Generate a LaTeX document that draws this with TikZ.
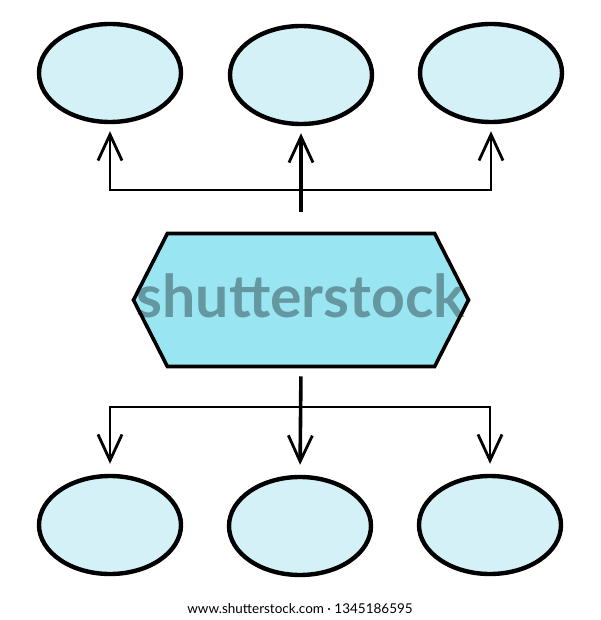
\documentclass[tikz,border=0pt]{standalone}
\usepackage{fontspec}
\newfontfamily\latofont{Lato}
\usetikzlibrary{arrows.meta,shapes.symbols,shapes.geometric}
\definecolor{ovalfill}{HTML}{D4F1F8}
\definecolor{hubfill}{HTML}{99E6F2}

\begin{document}
\begin{tikzpicture}[x=1pt,y=-1pt,
    oval/.style={ellipse,draw,line width=4.4pt,fill=ovalfill,
        minimum width=142pt,minimum height=98pt,inner sep=0pt},
    hubbox/.style={signal,signal to=east and west,signal pointer angle=126,
        draw,line width=3.6pt,fill=hubfill,
        minimum width=335pt,minimum height=133pt,inner sep=0pt},
    link/.style={line width=2.8pt,-{Straight Barb[length=26pt,width=24pt,line width=2.8pt]}},
    stem/.style={link,line width=3.6pt}]
        \useasboundingbox (0,0) rectangle (600,620);

        % верхній і нижній ряди
        \node[oval] (t1) at (110,73) {};
        \node[oval] (t2) at (301,75) {};
        \node[oval] (t3) at (491,73) {};
        \node[oval] (b1) at (110,525) {};
        \node[oval] (b2) at (300,526) {};
        \node[oval] (b3) at (490,525) {};

        \node[hubbox] (hub) at (301,300) {};

        % розгалуження
        \coordinate (up) at (301,190);
        \coordinate (down) at (301,407);

        \draw[stem,shorten <=20pt,shorten >=7pt] (hub.north) -- (t2.south);
        \draw[link,shorten >=7pt] (up) -| (t1.south);
        \draw[link,shorten >=7pt] (up) -| (t3.south);

        \draw[stem,shorten <=8pt,shorten >=10pt] (hub.south) -- (b2.north);
        \draw[link,shorten >=10pt] (down) -| (b1.north);
        \draw[link,shorten >=10pt] (down) -| (b3.north);

        \node[text=black,opacity=0.34,font=\latofont\bfseries\fontsize{59}{59}\selectfont] (mark) at (301,296) {shutterstock};
        \node[font=\latofont\fontsize{13.5}{14}\selectfont] (foot) at (300,609) {www.shutterstock.com · 1345186595};
    \end{tikzpicture}
\end{document}
